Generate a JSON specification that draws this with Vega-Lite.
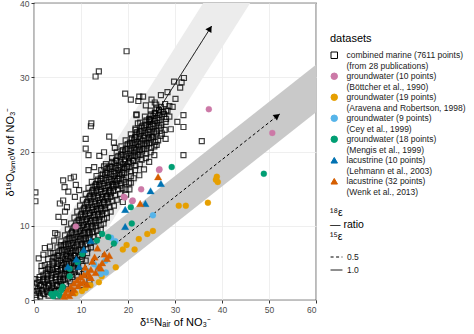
{
"$schema":"https://vega.github.io/schema/vega-lite/v6.json",
"width":282,"height":297,
"autosize":{"type":"none"},
"padding":{"left":34,"top":3,"right":158,"bottom":34},
"background":"white",
"config":{"font":"Liberation Sans","view":{"stroke":"#1a1a1a","strokeWidth":1.2},
 "axis":{"grid":true,"gridColor":"#ebebeb","gridWidth":0.8,"domain":false,"tickColor":"#333333","tickSize":3,"labelColor":"#4d4d4d","labelFontSize":8.5,"labelPadding":2,"titleFontSize":11,"titleFontWeight":"normal","titleColor":"#000000"},
 "legend":{"titleFontSize":11,"titleFontWeight":"normal","titleColor":"#000000","labelFontSize":8.5,"labelColor":"#1a1a1a","labelLimit":220,"symbolOpacity":1}},
"datasets":{
"pts":[
{"s":"M","x":0.4,"y":0.7},{"s":"M","x":1.3,"y":0.5},{"s":"M","x":2.2,"y":0.8},{"s":"M","x":3.1,"y":0.6},{"s":"M","x":4.0,"y":0.9},{"s":"M","x":5.0,"y":0.5},
{"s":"M","x":0.8,"y":1.5},{"s":"M","x":1.7,"y":1.3},{"s":"M","x":2.6,"y":1.6},{"s":"M","x":3.5,"y":1.3},{"s":"M","x":4.3,"y":1.5},{"s":"M","x":5.2,"y":1.2},{"s":"M","x":6.1,"y":1.6},
{"s":"M","x":0.6,"y":2.3},{"s":"M","x":1.5,"y":2.0},{"s":"M","x":2.3,"y":2.4},{"s":"M","x":3.2,"y":2.1},{"s":"M","x":4.0,"y":2.3},{"s":"M","x":4.9,"y":2.0},{"s":"M","x":5.8,"y":2.4},{"s":"M","x":6.8,"y":2.1},{"s":"M","x":7.6,"y":2.5},
{"s":"M","x":1.2,"y":3.1},{"s":"M","x":2.0,"y":2.8},{"s":"M","x":2.9,"y":3.2},{"s":"M","x":3.7,"y":2.9},{"s":"M","x":4.6,"y":3.1},{"s":"M","x":5.5,"y":2.8},{"s":"M","x":6.3,"y":3.2},{"s":"M","x":7.2,"y":2.9},{"s":"M","x":8.2,"y":3.1},{"s":"M","x":9.1,"y":3.3},
{"s":"M","x":1.6,"y":3.9},{"s":"M","x":2.5,"y":3.6},{"s":"M","x":3.4,"y":4.0},{"s":"M","x":4.2,"y":3.7},{"s":"M","x":5.1,"y":3.9},{"s":"M","x":6.0,"y":3.6},{"s":"M","x":6.9,"y":4.0},{"s":"M","x":7.8,"y":3.7},{"s":"M","x":8.7,"y":4.0},{"s":"M","x":9.6,"y":3.8},
{"s":"M","x":2.3,"y":4.7},{"s":"M","x":3.1,"y":4.4},{"s":"M","x":4.0,"y":4.8},{"s":"M","x":4.9,"y":4.5},{"s":"M","x":5.8,"y":4.7},{"s":"M","x":6.6,"y":4.4},{"s":"M","x":7.5,"y":4.8},{"s":"M","x":8.5,"y":4.5},{"s":"M","x":9.4,"y":4.8},{"s":"M","x":10.3,"y":4.6},
{"s":"M","x":3.0,"y":5.5},{"s":"M","x":3.9,"y":5.2},{"s":"M","x":4.8,"y":5.6},{"s":"M","x":5.7,"y":5.3},{"s":"M","x":6.6,"y":5.5},{"s":"M","x":7.4,"y":5.2},{"s":"M","x":8.3,"y":5.6},{"s":"M","x":9.2,"y":5.3},{"s":"M","x":10.2,"y":5.5},{"s":"M","x":11.0,"y":5.3},
{"s":"M","x":4.1,"y":6.3},{"s":"M","x":5.0,"y":6.0},{"s":"M","x":5.9,"y":6.4},{"s":"M","x":6.8,"y":6.1},{"s":"M","x":7.7,"y":6.3},{"s":"M","x":8.5,"y":6.0},{"s":"M","x":9.4,"y":6.4},{"s":"M","x":10.4,"y":6.1},{"s":"M","x":11.3,"y":6.3},
{"s":"M","x":5.0,"y":7.1},{"s":"M","x":5.9,"y":6.8},{"s":"M","x":6.8,"y":7.2},{"s":"M","x":7.7,"y":6.9},{"s":"M","x":8.6,"y":7.1},{"s":"M","x":9.5,"y":6.8},{"s":"M","x":10.4,"y":7.2},{"s":"M","x":11.4,"y":6.9},{"s":"M","x":12.1,"y":7.1},
{"s":"M","x":5.8,"y":7.9},{"s":"M","x":6.7,"y":7.6},{"s":"M","x":7.6,"y":8.0},{"s":"M","x":8.4,"y":7.7},{"s":"M","x":9.3,"y":7.9},{"s":"M","x":10.2,"y":7.6},{"s":"M","x":11.1,"y":8.0},{"s":"M","x":12.0,"y":7.7},{"s":"M","x":12.8,"y":7.9},
{"s":"M","x":6.6,"y":8.7},{"s":"M","x":7.5,"y":8.4},{"s":"M","x":8.4,"y":8.8},{"s":"M","x":9.3,"y":8.5},{"s":"M","x":10.1,"y":8.7},{"s":"M","x":11.0,"y":8.4},{"s":"M","x":11.9,"y":8.8},{"s":"M","x":12.8,"y":8.5},{"s":"M","x":13.6,"y":8.7},
{"s":"M","x":7.2,"y":9.5},{"s":"M","x":8.1,"y":9.2},{"s":"M","x":9.0,"y":9.6},{"s":"M","x":9.9,"y":9.3},{"s":"M","x":10.8,"y":9.5},{"s":"M","x":11.7,"y":9.2},{"s":"M","x":12.6,"y":9.6},{"s":"M","x":13.5,"y":9.3},{"s":"M","x":14.2,"y":9.5},
{"s":"M","x":7.9,"y":10.3},{"s":"M","x":8.8,"y":10.0},{"s":"M","x":9.7,"y":10.4},{"s":"M","x":10.6,"y":10.1},{"s":"M","x":11.5,"y":10.3},{"s":"M","x":12.4,"y":10.0},{"s":"M","x":13.3,"y":10.4},{"s":"M","x":14.2,"y":10.1},{"s":"M","x":14.8,"y":10.3},
{"s":"M","x":8.6,"y":11.1},{"s":"M","x":9.5,"y":10.8},{"s":"M","x":10.4,"y":11.2},{"s":"M","x":11.3,"y":10.9},{"s":"M","x":12.2,"y":11.1},{"s":"M","x":13.1,"y":10.8},{"s":"M","x":14.0,"y":11.2},{"s":"M","x":14.9,"y":10.9},{"s":"M","x":15.5,"y":11.1},
{"s":"M","x":9.2,"y":11.9},{"s":"M","x":10.1,"y":11.6},{"s":"M","x":11.0,"y":12.0},{"s":"M","x":11.9,"y":11.7},{"s":"M","x":12.8,"y":11.9},{"s":"M","x":13.7,"y":11.6},{"s":"M","x":14.6,"y":12.0},{"s":"M","x":15.5,"y":11.7},{"s":"M","x":16.3,"y":11.9},
{"s":"M","x":9.8,"y":12.7},{"s":"M","x":10.7,"y":12.4},{"s":"M","x":11.6,"y":12.8},{"s":"M","x":12.5,"y":12.5},{"s":"M","x":13.4,"y":12.7},{"s":"M","x":14.3,"y":12.4},{"s":"M","x":15.2,"y":12.8},{"s":"M","x":16.1,"y":12.5},{"s":"M","x":17.0,"y":12.7},
{"s":"M","x":10.4,"y":13.5},{"s":"M","x":11.3,"y":13.2},{"s":"M","x":12.2,"y":13.6},{"s":"M","x":13.1,"y":13.3},{"s":"M","x":14.0,"y":13.5},{"s":"M","x":14.9,"y":13.2},{"s":"M","x":15.8,"y":13.6},{"s":"M","x":16.7,"y":13.3},{"s":"M","x":17.6,"y":13.5},
{"s":"M","x":11.0,"y":14.3},{"s":"M","x":11.9,"y":14.0},{"s":"M","x":12.8,"y":14.4},{"s":"M","x":13.7,"y":14.1},{"s":"M","x":14.6,"y":14.3},{"s":"M","x":15.5,"y":14.0},{"s":"M","x":16.4,"y":14.4},{"s":"M","x":17.3,"y":14.1},{"s":"M","x":18.3,"y":14.3},
{"s":"M","x":11.6,"y":15.1},{"s":"M","x":12.5,"y":14.8},{"s":"M","x":13.4,"y":15.2},{"s":"M","x":14.3,"y":14.9},{"s":"M","x":15.2,"y":15.1},{"s":"M","x":16.1,"y":14.8},{"s":"M","x":17.0,"y":15.2},{"s":"M","x":17.9,"y":14.9},{"s":"M","x":18.8,"y":15.1},{"s":"M","x":19.5,"y":14.9},
{"s":"M","x":12.3,"y":15.9},{"s":"M","x":13.2,"y":15.6},{"s":"M","x":14.1,"y":16.0},{"s":"M","x":15.0,"y":15.7},{"s":"M","x":15.9,"y":15.9},{"s":"M","x":16.8,"y":15.6},{"s":"M","x":17.7,"y":16.0},{"s":"M","x":18.6,"y":15.7},{"s":"M","x":19.5,"y":15.9},{"s":"M","x":20.2,"y":15.7},
{"s":"M","x":13.3,"y":16.7},{"s":"M","x":14.2,"y":16.4},{"s":"M","x":15.1,"y":16.8},{"s":"M","x":16.0,"y":16.5},{"s":"M","x":16.9,"y":16.7},{"s":"M","x":17.8,"y":16.4},{"s":"M","x":18.7,"y":16.8},{"s":"M","x":19.6,"y":16.5},{"s":"M","x":20.6,"y":16.7},
{"s":"M","x":14.3,"y":17.5},{"s":"M","x":15.2,"y":17.2},{"s":"M","x":16.1,"y":17.6},{"s":"M","x":17.0,"y":17.3},{"s":"M","x":17.9,"y":17.5},{"s":"M","x":18.8,"y":17.2},{"s":"M","x":19.7,"y":17.6},{"s":"M","x":20.6,"y":17.3},{"s":"M","x":21.5,"y":17.5},
{"s":"M","x":15.3,"y":18.3},{"s":"M","x":16.2,"y":18.0},{"s":"M","x":17.1,"y":18.4},{"s":"M","x":18.0,"y":18.1},{"s":"M","x":18.9,"y":18.3},{"s":"M","x":19.8,"y":18.0},{"s":"M","x":20.7,"y":18.4},{"s":"M","x":21.6,"y":18.1},{"s":"M","x":22.5,"y":18.3},
{"s":"M","x":16.6,"y":19.1},{"s":"M","x":17.5,"y":18.8},{"s":"M","x":18.4,"y":19.2},{"s":"M","x":19.3,"y":18.9},{"s":"M","x":20.2,"y":19.1},{"s":"M","x":21.1,"y":18.8},{"s":"M","x":22.0,"y":19.2},{"s":"M","x":22.9,"y":18.9},{"s":"M","x":23.8,"y":19.1},
{"s":"M","x":17.6,"y":19.9},{"s":"M","x":18.5,"y":19.6},{"s":"M","x":19.4,"y":20.0},{"s":"M","x":20.3,"y":19.7},{"s":"M","x":21.2,"y":19.9},{"s":"M","x":22.1,"y":19.6},{"s":"M","x":23.0,"y":20.0},{"s":"M","x":23.9,"y":19.7},{"s":"M","x":24.8,"y":19.9},
{"s":"M","x":18.6,"y":20.7},{"s":"M","x":19.5,"y":20.4},{"s":"M","x":20.4,"y":20.8},{"s":"M","x":21.3,"y":20.5},{"s":"M","x":22.2,"y":20.7},{"s":"M","x":23.1,"y":20.4},{"s":"M","x":24.0,"y":20.8},{"s":"M","x":24.9,"y":20.5},{"s":"M","x":25.6,"y":20.7},
{"s":"M","x":19.5,"y":21.5},{"s":"M","x":20.4,"y":21.2},{"s":"M","x":21.3,"y":21.6},{"s":"M","x":22.2,"y":21.3},{"s":"M","x":23.1,"y":21.5},{"s":"M","x":24.0,"y":21.2},{"s":"M","x":24.9,"y":21.6},{"s":"M","x":25.8,"y":21.3},{"s":"M","x":26.4,"y":21.5},
{"s":"M","x":20.6,"y":22.3},{"s":"M","x":21.5,"y":22.0},{"s":"M","x":22.4,"y":22.4},{"s":"M","x":23.3,"y":22.1},{"s":"M","x":24.2,"y":22.3},{"s":"M","x":25.1,"y":22.0},{"s":"M","x":26.0,"y":22.4},{"s":"M","x":26.9,"y":22.1},
{"s":"M","x":21.6,"y":23.1},{"s":"M","x":22.5,"y":22.8},{"s":"M","x":23.4,"y":23.2},{"s":"M","x":24.3,"y":22.9},{"s":"M","x":25.2,"y":23.1},{"s":"M","x":26.1,"y":22.8},{"s":"M","x":27.0,"y":23.2},{"s":"M","x":27.8,"y":22.9},
{"s":"M","x":22.6,"y":23.9},{"s":"M","x":23.5,"y":23.6},{"s":"M","x":24.4,"y":24.0},{"s":"M","x":25.3,"y":23.7},{"s":"M","x":26.2,"y":23.9},{"s":"M","x":27.1,"y":23.6},{"s":"M","x":28.0,"y":24.0},
{"s":"M","x":23.6,"y":24.7},{"s":"M","x":24.5,"y":24.4},{"s":"M","x":25.4,"y":24.8},{"s":"M","x":26.3,"y":24.5},{"s":"M","x":27.2,"y":24.7},{"s":"M","x":28.1,"y":24.4},{"s":"M","x":28.8,"y":24.7},
{"s":"M","x":24.8,"y":25.5},{"s":"M","x":25.7,"y":25.2},{"s":"M","x":26.6,"y":25.6},{"s":"M","x":27.5,"y":25.3},{"s":"M","x":28.4,"y":25.5},
{"s":"M","x":26.0,"y":26.3},{"s":"M","x":27.0,"y":26.0},{"s":"M","x":27.9,"y":26.4},{"s":"M","x":28.8,"y":26.1},
{"s":"M","x":1.0,"y":1.0},{"s":"M","x":1.9,"y":0.9},{"s":"M","x":2.8,"y":1.1},{"s":"M","x":3.7,"y":1.0},{"s":"M","x":4.6,"y":1.2},{"s":"M","x":1.2,"y":1.9},{"s":"M","x":2.1,"y":1.8},{"s":"M","x":3.0,"y":1.9},{"s":"M","x":3.9,"y":1.8},{"s":"M","x":4.8,"y":1.9},{"s":"M","x":5.6,"y":1.9},
{"s":"M","x":1.0,"y":2.7},{"s":"M","x":1.9,"y":2.6},{"s":"M","x":2.8,"y":2.7},{"s":"M","x":3.7,"y":2.6},{"s":"M","x":4.6,"y":2.7},{"s":"M","x":5.4,"y":2.5},{"s":"M","x":6.2,"y":2.7},
{"s":"M","x":2.0,"y":3.4},{"s":"M","x":2.9,"y":3.5},{"s":"M","x":3.8,"y":3.4},{"s":"M","x":4.7,"y":3.5},{"s":"M","x":5.6,"y":3.4},{"s":"M","x":6.5,"y":3.5},{"s":"M","x":7.4,"y":3.4},
{"s":"M","x":3.0,"y":4.2},{"s":"M","x":3.9,"y":4.1},{"s":"M","x":4.8,"y":4.2},{"s":"M","x":5.7,"y":4.1},{"s":"M","x":6.6,"y":4.2},{"s":"M","x":7.5,"y":4.1},{"s":"M","x":8.3,"y":4.2},
{"s":"M","x":4.3,"y":5.0},{"s":"M","x":5.2,"y":4.9},{"s":"M","x":6.1,"y":5.0},{"s":"M","x":7.0,"y":4.9},{"s":"M","x":7.9,"y":5.0},{"s":"M","x":8.8,"y":5.0},{"s":"M","x":0.5,"y":1.2},{"s":"M","x":0.3,"y":2.8},
{"s":"M","x":4.35,"y":5.8},{"s":"M","x":5.25,"y":5.95},{"s":"M","x":6.15,"y":5.75},{"s":"M","x":7.0,"y":5.9},{"s":"M","x":7.85,"y":5.8},{"s":"M","x":8.75,"y":5.95},{"s":"M","x":9.7,"y":5.8},
{"s":"M","x":5.45,"y":6.6},{"s":"M","x":6.35,"y":6.7},{"s":"M","x":7.25,"y":6.55},{"s":"M","x":8.1,"y":6.65},{"s":"M","x":8.95,"y":6.6},{"s":"M","x":9.9,"y":6.7},
{"s":"M","x":6.35,"y":7.4},{"s":"M","x":7.25,"y":7.5},{"s":"M","x":8.15,"y":7.35},{"s":"M","x":9.05,"y":7.45},{"s":"M","x":9.95,"y":7.4},{"s":"M","x":10.9,"y":7.5},
{"s":"M","x":7.15,"y":8.2},{"s":"M","x":8.0,"y":8.3},{"s":"M","x":8.85,"y":8.15},{"s":"M","x":9.75,"y":8.25},{"s":"M","x":10.65,"y":8.2},{"s":"M","x":11.55,"y":8.3},
{"s":"M","x":7.95,"y":9.0},{"s":"M","x":8.85,"y":9.1},{"s":"M","x":9.7,"y":8.95},{"s":"M","x":10.55,"y":9.05},{"s":"M","x":11.45,"y":9.0},{"s":"M","x":12.35,"y":9.1},
{"s":"M","x":8.55,"y":9.8},{"s":"M","x":9.45,"y":9.9},{"s":"M","x":10.35,"y":9.75},{"s":"M","x":11.25,"y":9.85},{"s":"M","x":12.15,"y":9.8},{"s":"M","x":13.05,"y":9.9},
{"s":"M","x":9.25,"y":10.6},{"s":"M","x":10.15,"y":10.7},{"s":"M","x":11.05,"y":10.55},{"s":"M","x":11.95,"y":10.65},{"s":"M","x":12.85,"y":10.6},{"s":"M","x":13.75,"y":10.7},
{"s":"M","x":9.95,"y":11.4},{"s":"M","x":10.85,"y":11.5},{"s":"M","x":11.75,"y":11.35},{"s":"M","x":12.65,"y":11.45},{"s":"M","x":13.55,"y":11.4},{"s":"M","x":14.45,"y":11.5},
{"s":"M","x":10.55,"y":12.2},{"s":"M","x":11.45,"y":12.3},{"s":"M","x":12.35,"y":12.15},{"s":"M","x":13.25,"y":12.25},{"s":"M","x":14.15,"y":12.2},{"s":"M","x":15.05,"y":12.3},
{"s":"M","x":11.15,"y":13.0},{"s":"M","x":12.05,"y":13.1},{"s":"M","x":12.95,"y":12.95},{"s":"M","x":13.85,"y":13.05},{"s":"M","x":14.75,"y":13.0},{"s":"M","x":15.65,"y":13.1},
{"s":"M","x":11.75,"y":13.8},{"s":"M","x":12.65,"y":13.9},{"s":"M","x":13.55,"y":13.75},{"s":"M","x":14.45,"y":13.85},{"s":"M","x":15.35,"y":13.8},{"s":"M","x":16.25,"y":13.9},
{"s":"M","x":12.35,"y":14.6},{"s":"M","x":13.25,"y":14.7},{"s":"M","x":14.15,"y":14.55},{"s":"M","x":15.05,"y":14.65},{"s":"M","x":15.95,"y":14.6},{"s":"M","x":16.85,"y":14.7},
{"s":"M","x":12.95,"y":15.4},{"s":"M","x":13.85,"y":15.5},{"s":"M","x":14.75,"y":15.35},{"s":"M","x":15.65,"y":15.45},{"s":"M","x":16.55,"y":15.4},{"s":"M","x":17.45,"y":15.5},{"s":"M","x":18.35,"y":15.4},
{"s":"M","x":13.65,"y":16.2},{"s":"M","x":14.55,"y":16.3},{"s":"M","x":15.45,"y":16.15},{"s":"M","x":16.35,"y":16.25},{"s":"M","x":17.25,"y":16.2},{"s":"M","x":18.15,"y":16.3},{"s":"M","x":19.05,"y":16.2},
{"s":"M","x":14.65,"y":17.0},{"s":"M","x":15.55,"y":17.1},{"s":"M","x":16.45,"y":16.95},{"s":"M","x":17.35,"y":17.05},{"s":"M","x":18.25,"y":17.0},{"s":"M","x":19.15,"y":17.1},
{"s":"M","x":15.65,"y":17.8},{"s":"M","x":16.55,"y":17.9},{"s":"M","x":17.45,"y":17.75},{"s":"M","x":18.35,"y":17.85},{"s":"M","x":19.25,"y":17.8},{"s":"M","x":20.15,"y":17.9},
{"s":"M","x":16.65,"y":18.6},{"s":"M","x":17.55,"y":18.7},{"s":"M","x":18.45,"y":18.55},{"s":"M","x":19.35,"y":18.65},{"s":"M","x":20.25,"y":18.6},{"s":"M","x":21.15,"y":18.7},
{"s":"M","x":17.95,"y":19.4},{"s":"M","x":18.85,"y":19.5},{"s":"M","x":19.75,"y":19.35},{"s":"M","x":20.65,"y":19.45},{"s":"M","x":21.55,"y":19.4},{"s":"M","x":22.45,"y":19.5},
{"s":"M","x":18.95,"y":20.2},{"s":"M","x":19.85,"y":20.3},{"s":"M","x":20.75,"y":20.15},{"s":"M","x":21.65,"y":20.25},{"s":"M","x":22.55,"y":20.2},{"s":"M","x":23.45,"y":20.3},
{"s":"M","x":19.95,"y":21.0},{"s":"M","x":20.85,"y":21.1},{"s":"M","x":21.75,"y":20.95},{"s":"M","x":22.65,"y":21.05},{"s":"M","x":23.55,"y":21.0},{"s":"M","x":24.45,"y":21.1},
{"s":"M","x":20.85,"y":21.8},{"s":"M","x":21.75,"y":21.9},{"s":"M","x":22.65,"y":21.75},{"s":"M","x":23.55,"y":21.85},{"s":"M","x":24.45,"y":21.8},{"s":"M","x":25.35,"y":21.9},
{"s":"M","x":21.95,"y":22.6},{"s":"M","x":22.85,"y":22.7},{"s":"M","x":23.75,"y":22.55},{"s":"M","x":24.65,"y":22.65},{"s":"M","x":25.55,"y":22.6},
{"s":"M","x":22.95,"y":23.4},{"s":"M","x":23.85,"y":23.5},{"s":"M","x":24.75,"y":23.35},{"s":"M","x":25.65,"y":23.45},{"s":"M","x":26.55,"y":23.4},
{"s":"M","x":23.95,"y":24.2},{"s":"M","x":24.85,"y":24.3},{"s":"M","x":25.75,"y":24.15},{"s":"M","x":26.65,"y":24.25},
{"s":"M","x":24.95,"y":25.0},{"s":"M","x":25.85,"y":25.1},{"s":"M","x":26.75,"y":24.95},{"s":"M","x":27.65,"y":25.05},
{"s":"M","x":0.3,"y":14.5},{"s":"M","x":0.3,"y":13.3},{"s":"M","x":1.6,"y":4.6},{"s":"M","x":2.3,"y":7.0},{"s":"M","x":3.4,"y":7.2},{"s":"M","x":1.0,"y":5.6},{"s":"M","x":2.0,"y":6.1},{"s":"M","x":4.5,"y":9.0},{"s":"M","x":5.0,"y":8.8},{"s":"M","x":5.2,"y":11.2},
{"s":"M","x":5.5,"y":13.0},{"s":"M","x":6.2,"y":13.4},{"s":"M","x":6.6,"y":11.9},{"s":"M","x":6.2,"y":16.1},{"s":"M","x":7.8,"y":16.4},{"s":"M","x":8.5,"y":16.6},{"s":"M","x":8.9,"y":15.5},{"s":"M","x":6.5,"y":15.2},{"s":"M","x":8.7,"y":13.9},{"s":"M","x":7.0,"y":12.5},
{"s":"M","x":4.3,"y":8.0},{"s":"M","x":5.7,"y":7.4},{"s":"M","x":3.5,"y":6.3},{"s":"M","x":6.4,"y":10.5},{"s":"M","x":7.3,"y":14.6},{"s":"M","x":9.6,"y":14.8},{"s":"M","x":11.6,"y":17.5},{"s":"M","x":12.8,"y":17.9},{"s":"M","x":14.9,"y":18.0},{"s":"M","x":11.0,"y":20.4},
{"s":"M","x":11.6,"y":19.5},{"s":"M","x":13.9,"y":19.4},{"s":"M","x":14.9,"y":19.9},{"s":"M","x":11.0,"y":21.7},{"s":"M","x":12.1,"y":23.4},{"s":"M","x":12.2,"y":23.8},{"s":"M","x":13.1,"y":30.1},{"s":"M","x":13.8,"y":30.8},{"s":"M","x":19.7,"y":33.5},{"s":"M","x":19.4,"y":27.8},
{"s":"M","x":20.6,"y":27.0},{"s":"M","x":22.4,"y":27.4},{"s":"M","x":22.2,"y":26.8},{"s":"M","x":23.8,"y":26.2},{"s":"M","x":25.7,"y":26.6},{"s":"M","x":17.0,"y":21.2},{"s":"M","x":17.2,"y":20.5},{"s":"M","x":16.0,"y":22.0},{"s":"M","x":21.6,"y":22.9},{"s":"M","x":22.1,"y":23.8},
{"s":"M","x":24.7,"y":24.2},{"s":"M","x":21.8,"y":25.0},{"s":"M","x":26.6,"y":25.5},{"s":"M","x":31.8,"y":23.3},{"s":"M","x":35.7,"y":21.4},{"s":"M","x":31.8,"y":19.5},{"s":"M","x":20.6,"y":15.8},{"s":"M","x":21.2,"y":16.4},{"s":"M","x":20.3,"y":14.9},{"s":"M","x":18.9,"y":13.2},
{"s":"M","x":19.6,"y":14.2},{"s":"M","x":10.2,"y":2.0},{"s":"M","x":11.8,"y":2.6},{"s":"M","x":8.3,"y":1.0},{"s":"M","x":10.6,"y":3.5},{"s":"M","x":9.2,"y":5.4},{"s":"M","x":0.5,"y":0.3},{"s":"M","x":0.2,"y":1.8},{"s":"M","x":28.1,"y":25.5},{"s":"M","x":30.1,"y":27.1},
{"s":"M","x":29.8,"y":29.4},{"s":"M","x":31.4,"y":29.3},{"s":"M","x":31.9,"y":29.9},{"s":"M","x":31.1,"y":28.6},{"s":"M","x":31.8,"y":24.9},{"s":"M","x":30.5,"y":24.0},{"s":"M","x":29.1,"y":23.0},{"s":"M","x":27.2,"y":22.4},{"s":"M","x":28.0,"y":21.7},{"s":"M","x":26.1,"y":20.9},
{"s":"M","x":25.6,"y":19.5},{"s":"M","x":24.5,"y":18.6},{"s":"M","x":23.4,"y":17.6},{"s":"M","x":22.4,"y":16.8},{"s":"M","x":27.0,"y":27.6},{"s":"M","x":28.4,"y":28.0},{"s":"M","x":29.5,"y":26.0},{"s":"M","x":25.0,"y":27.0},{"s":"M","x":23.2,"y":27.4},{"s":"M","x":26.1,"y":25.8},{"s":"M","x":21.8,"y":24.9},
{"s":"B","x":26.7,"y":17.6},{"s":"B","x":22.8,"y":14.9},{"s":"B","x":19.1,"y":13.9},{"s":"B","x":20.9,"y":13.3},{"s":"B","x":8.9,"y":9.9},{"s":"B","x":37.2,"y":25.7},{"s":"B","x":50.7,"y":22.5},{"s":"B","x":19.3,"y":13.8},{"s":"B","x":21.0,"y":13.4},{"s":"B","x":26.6,"y":17.5},
{"s":"A","x":38.9,"y":16.6},{"s":"A","x":39.1,"y":15.9},{"s":"A","x":38.7,"y":16.2},{"s":"A","x":37.0,"y":13.1},{"s":"A","x":30.8,"y":12.7},{"s":"A","x":32.3,"y":12.7},{"s":"A","x":25.3,"y":9.3},{"s":"A","x":24.1,"y":8.9},{"s":"A","x":22.3,"y":8.2},{"s":"A","x":19.7,"y":7.4},
{"s":"A","x":18.9,"y":6.8},{"s":"A","x":21.4,"y":6.8},{"s":"A","x":17.4,"y":4.4},{"s":"A","x":13.8,"y":2.4},{"s":"A","x":14.4,"y":3.2},{"s":"A","x":10.2,"y":1.2},{"s":"A","x":12.0,"y":2.0},{"s":"A","x":8.8,"y":0.9},{"s":"A","x":11.0,"y":1.6},
{"s":"C","x":25.3,"y":11.4},{"s":"C","x":17.3,"y":7.9},{"s":"C","x":14.2,"y":3.5},{"s":"C","x":16.4,"y":8.4},{"s":"C","x":15.3,"y":3.7},{"s":"C","x":12.8,"y":4.8},{"s":"C","x":11.3,"y":3.9},{"s":"C","x":15.2,"y":5.3},{"s":"C","x":13.6,"y":4.2},
{"s":"G","x":29.3,"y":17.9},{"s":"G","x":48.9,"y":17.0},{"s":"G","x":20.6,"y":12.5},{"s":"G","x":20.8,"y":10.3},{"s":"G","x":14.5,"y":8.9},{"s":"G","x":15.8,"y":8.5},{"s":"G","x":17.0,"y":7.6},{"s":"G","x":10.3,"y":6.2},{"s":"G","x":7.6,"y":4.2},{"s":"G","x":7.6,"y":3.2},
{"s":"G","x":6.1,"y":1.8},{"s":"G","x":4.6,"y":0.9},{"s":"G","x":4.1,"y":0.5},{"s":"G","x":5.5,"y":0.6},{"s":"G","x":3.7,"y":0.8},{"s":"G","x":9.3,"y":5.1},{"s":"G","x":13.4,"y":8.0},{"s":"G","x":5.8,"y":1.3},
{"s":"L","x":27.0,"y":15.7},{"s":"L","x":24.8,"y":14.7},{"s":"L","x":23.7,"y":13.0},{"s":"L","x":19.4,"y":12.2},{"s":"L","x":19.4,"y":9.9},{"s":"L","x":12.1,"y":8.0},{"s":"L","x":9.0,"y":5.5},{"s":"L","x":7.2,"y":4.5},{"s":"L","x":9.6,"y":4.5},{"s":"L","x":10.6,"y":6.8},
{"s":"W","x":26.4,"y":16.6},{"s":"W","x":22.6,"y":13.0},{"s":"W","x":13.5,"y":7.0},{"s":"W","x":16.0,"y":6.0},{"s":"W","x":15.5,"y":5.6},{"s":"W","x":14.5,"y":5.0},{"s":"W","x":13.8,"y":4.5},{"s":"W","x":12.4,"y":5.2},{"s":"W","x":12.1,"y":4.1},{"s":"W","x":11.4,"y":3.7},
{"s":"W","x":10.6,"y":3.4},{"s":"W","x":9.9,"y":3.1},{"s":"W","x":9.2,"y":2.7},{"s":"W","x":8.5,"y":2.3},{"s":"W","x":7.8,"y":1.8},{"s":"W","x":7.1,"y":1.4},{"s":"W","x":6.7,"y":0.9},{"s":"W","x":6.4,"y":0.5},{"s":"W","x":8.5,"y":1.4},{"s":"W","x":9.9,"y":2.3},
{"s":"W","x":10.6,"y":2.5},{"s":"W","x":11.3,"y":2.1},{"s":"W","x":12.1,"y":3.0},{"s":"W","x":13.1,"y":3.7},{"s":"W","x":14.2,"y":4.3},{"s":"W","x":7.5,"y":0.6},{"s":"W","x":8.2,"y":1.0},{"s":"W","x":9.4,"y":1.9},{"s":"W","x":10.9,"y":4.4},{"s":"W","x":12.9,"y":5.8},
{"s":"W","x":15.0,"y":6.2},{"s":"W","x":11.8,"y":3.3}
],
"lines":[{"ratio":"1.0","x":5,"y":4.1},{"ratio":"1.0","x":37.8,"y":36.9},{"ratio":"0.5","x":8,"y":2.9},{"ratio":"0.5","x":52.3,"y":25.05}],
"heads":[{"ratio":"1.0","x":37.45,"y":36.55},{"ratio":"0.5","x":51.75,"y":24.8}],
"bands":[{"ratio":"1.0","x":2,"lo":-4,"hi":6},{"ratio":"1.0","x":46,"lo":40,"hi":50},{"ratio":"0.5","x":6,"lo":-1.7,"hi":4.7},{"ratio":"0.5","x":60,"lo":25.3,"hi":31.7}]
},
"encoding":{
 "x":{"field":"x","type":"quantitative","scale":{"domain":[0,60],"nice":false},"axis":{"values":[0,10,20,30,40,50,60],"title":"δ¹⁵Nₐᵢᵣ of NO₃⁻","titlePadding":3}},
 "y":{"field":"y","type":"quantitative","scale":{"domain":[0,40],"nice":false},"axis":{"values":[0,10,20,30,40],"title":"δ¹⁸Oᵥₛₘₒw of NO₃⁻","titlePadding":4}}
},
"layer":[
 {"data":{"name":"bands"},"transform":[{"filter":"datum.ratio=='1.0'"}],"mark":{"type":"area","clip":true,"color":"#ececec"},"encoding":{"y":{"field":"lo","type":"quantitative","title":"δ¹⁸Oᵥₛₘₒw of NO₃⁻"},"y2":{"field":"hi"}}},
 {"data":{"name":"bands"},"transform":[{"filter":"datum.ratio=='0.5'"}],"mark":{"type":"area","clip":true,"color":"#c9c9c9"},"encoding":{"y":{"field":"lo","type":"quantitative","title":"δ¹⁸Oᵥₛₘₒw of NO₃⁻"},"y2":{"field":"hi"}}},
 {"data":{"name":"pts"},"transform":[{"filter":"datum.s=='M'"}],"mark":{"type":"point","filled":true,"size":25,"strokeWidth":1.2,"opacity":0.75,"clip":true},
  "encoding":{
   "shape":{"field":"s","type":"nominal","scale":{"domain":["M","B","A","C","G","L","W"],"range":["square","circle","circle","circle","circle","triangle-up","triangle-up"]},"title":"datasets",
    "legend":{"orient":"none","legendX":296,"legendY":30,"symbolSize":42,"symbolStrokeWidth":1,"rowPadding":0,"labelOffset":8,"titlePadding":7,
     "labelExpr":"{'M':['combined marine (7611 points)','(from 28 publications)'],'B':['groundwater (10 points)','(Böttcher et al., 1990)'],'A':['groundwater (19 points)','(Aravena and Robertson, 1998)'],'C':['groundwater (9 points)','(Cey et al., 1999)'],'G':['groundwater (18 points)','(Mengis et al., 1999)'],'L':['lacustrine (10 points)','(Lehmann et al., 2003)'],'W':['lacustrine (32 points)','(Wenk et al., 2013)']}[datum.label]"}},
   "fill":{"field":"s","type":"nominal","scale":{"domain":["M","B","A","C","G","L","W"],"range":["transparent","#CC79A7","#E69F00","#56B4E9","#009E73","#0072B2","#D55E00"]},"title":"datasets",
    "legend":{"orient":"none","legendX":296,"legendY":30,"symbolSize":42,"symbolStrokeWidth":1,"rowPadding":0,"labelOffset":8,"titlePadding":7,
     "labelExpr":"{'M':['combined marine (7611 points)','(from 28 publications)'],'B':['groundwater (10 points)','(Böttcher et al., 1990)'],'A':['groundwater (19 points)','(Aravena and Robertson, 1998)'],'C':['groundwater (9 points)','(Cey et al., 1999)'],'G':['groundwater (18 points)','(Mengis et al., 1999)'],'L':['lacustrine (10 points)','(Lehmann et al., 2003)'],'W':['lacustrine (32 points)','(Wenk et al., 2013)']}[datum.label]"}},
   "stroke":{"field":"s","type":"nominal","scale":{"domain":["M","B","A","C","G","L","W"],"range":["#000000","#CC79A7","#E69F00","#56B4E9","#009E73","#0072B2","#D55E00"]},"title":"datasets",
    "legend":{"orient":"none","legendX":296,"legendY":30,"symbolSize":42,"symbolStrokeWidth":1,"rowPadding":0,"labelOffset":8,"titlePadding":7,
     "labelExpr":"{'M':['combined marine (7611 points)','(from 28 publications)'],'B':['groundwater (10 points)','(Böttcher et al., 1990)'],'A':['groundwater (19 points)','(Aravena and Robertson, 1998)'],'C':['groundwater (9 points)','(Cey et al., 1999)'],'G':['groundwater (18 points)','(Mengis et al., 1999)'],'L':['lacustrine (10 points)','(Lehmann et al., 2003)'],'W':['lacustrine (32 points)','(Wenk et al., 2013)']}[datum.label]"}}}},
 {"data":{"name":"lines"},"mark":{"type":"line","color":"#000000","strokeWidth":1,"clip":true},
  "encoding":{"detail":{"field":"ratio"},"strokeDash":{"field":"ratio","type":"nominal","scale":{"domain":["0.5","1.0"],"range":[[3,2.5],[1,0]]},
   "legend":{"orient":"none","legendX":296,"legendY":205,"title":["¹⁸ε","— ratio","¹⁵ε"],"titleFontSize":10.5,"titleLineHeight":12,"symbolType":"stroke","symbolStrokeColor":"#000000","symbolStrokeWidth":1,"symbolSize":140,"titlePadding":8}}}},
 {"data":{"name":"heads"},"transform":[{"filter":"datum.ratio=='1.0'"}],"mark":{"type":"point","shape":"triangle-up","filled":true,"color":"#000000","size":50,"opacity":1,"angle":32}},
 {"data":{"name":"heads"},"transform":[{"filter":"datum.ratio=='0.5'"}],"mark":{"type":"point","shape":"triangle-up","filled":true,"color":"#000000","size":50,"opacity":1,"angle":52}},
 {"data":{"name":"pts"},"transform":[{"filter":"indexof(['B','A','C','G'], datum.s) >= 0"}],"mark":{"type":"point","filled":true,"size":36,"strokeWidth":0.3,"opacity":1,"clip":true},
  "encoding":{"shape":{"field":"s","type":"nominal","title":"datasets"},"fill":{"field":"s","type":"nominal","title":"datasets"},"stroke":{"field":"s","type":"nominal","title":"datasets"}}},
 {"data":{"name":"pts"},"transform":[{"filter":"datum.s=='L' || datum.s=='W'"}],"mark":{"type":"point","filled":true,"size":55,"strokeWidth":0.3,"opacity":1,"clip":true},
  "encoding":{"shape":{"field":"s","type":"nominal","title":"datasets"},"fill":{"field":"s","type":"nominal","title":"datasets"},"stroke":{"field":"s","type":"nominal","title":"datasets"}}}
]
}
